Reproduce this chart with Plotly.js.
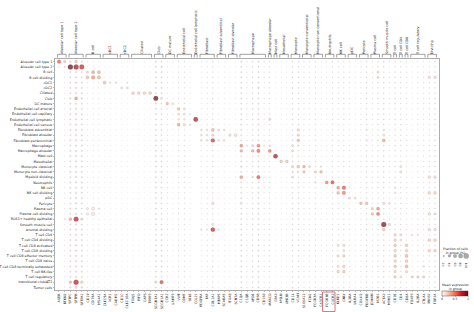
<!DOCTYPE html>
<html><head><meta charset="utf-8">
<script src="https://cdn.plot.ly/plotly-3.0.1.min.js"></script>
<style>html,body{margin:0;padding:0;background:#fff}#chart{width:474px;height:312px}</style>
</head><body><div id="chart"></div>
<script>
const cellTypes = ['Alveolar cell type 1','Alveolar cell type 2','B cell','B cell dividing','cDC1','cDC2','Ciliated','Club','DC mature','Endothelial cell arterial','Endothelial cell capillary','Endothelial cell lymphatic','Endothelial cell venous','Fibroblast adventitial','Fibroblast alveolar','Fibroblast peribronchial','Macrophage','Macrophage alveolar','Mast cell','Mesothelial','Monocyte classical','Monocyte non-classical','Myeloid dividing','Neutrophils','NK cell','NK cell dividing','pDC','Pericyte','Plasma cell','Plasma cell dividing','ROS1+ healthy epithelial','Smooth muscle cell','stromal dividing','T cell CD4','T cell CD4 dividing','T cell CD8 activated','T cell CD8 dividing','T cell CD8 effector memory','T cell CD8 naive','T cell CD8 terminally exhausted','T cell NK-like','T cell regulatory','transitional club/AT2','Tumor cells'];

const genes = ['AGER','RTKN2','SFTPC','SFTPB','SFTPA1','CD19','CD79A','MS4A1','CLEC9A','XCR1','CADM1','CD1C','CLEC10A','FOXJ1','PIFO','CAPS','TPPP3','SCGB3A1','SCGB1A1','CCR7','LAMP3','VWF','CDH5','SELE','CCL21','PDGFRA','FAP','COL1A1','MFAP5','SCARA5','ITGA8','SCN7A','C1QA','C1QB','APOE','CD68','CD163','MARCO','CPA3','MSLN','UPK3B','CD14','VCAN','S100A12','FCN1','FCGR3A','CX3CR1','FCGR3B','CXCR2','KLRD1','GNLY','IL3RA','LILRA4','COX4I2','PDGFRB','JCHAIN','MZB1','ACTA2','MYH11','CD3E','CD4','CD8A','FOXP3','IL2RA','CTLA4','MKI67','TOP2A'];

const groupNames = ['Alveolar cell type 1','Alveolar cell type 2','B cell','cDC1','cDC2','Ciliated','Club','DC mature','Endothelial cell','Endothelial cell lymphatic','Fibroblast','Fibroblast adventitial','Fibroblast alveolar','Macrophage','Macrophage alveolar','Mast cell','Mesothelial','Monocyte','Monocyte conventional','Monocyte non-conventional','Neutrophils','NK cell','pDC','Pericyte','Plasma cell','Smooth muscle cell','T cell','T cell CD4','T cell CD8','T cell regulatory','Dividing'];
const groupFirst = [0,2,5,8,11,13,17,19,21,24,25,28,30,32,37,38,39,41,43,45,47,49,51,53,55,57,59,60,61,62,65];
const groupLast  = [1,4,7,10,12,16,18,20,23,24,27,29,31,36,37,38,40,42,44,46,48,50,52,54,56,58,59,60,61,64,66];

// faint background fraction per gene (column)
const ambientFrac = [0,0.04,0.15,0.2,0.15,0.04,0.04,0.04,0.02,0.02,0.02,0.02,0.02,0.02,0.02,0.02,0.02,0.14,0.12,0.05,0.03,0.06,0.06,0.03,0,0.04,0.05,0.08,0.03,0.03,0.02,0.03,0.14,0.05,0.1,0.14,0.05,0.07,0.02,0.03,0.03,0.1,0.1,0.05,0.05,0.07,0.03,0.04,0.07,0.06,0.06,0.05,0.03,0.05,0.09,0.05,0.08,0.1,0.05,0.08,0.08,0.05,0.03,0.05,0.05,0.07,0.09];
const ambientExpr = 0.04;

// [row, gene column, fraction of cells, scaled mean expression]
const dots = [
[0,0,0.6,0.6],[0,1,0.35,0.25],[0,2,0.2,0.1],[0,3,0.4,0.25],[0,4,0.15,0.08],
[1,0,0.1,0.05],[1,1,0.15,0.1],[1,2,0.95,1.0],[1,3,0.95,0.88],[1,4,0.9,0.75],[1,17,0.15,0.1],[1,18,0.2,0.15],
[2,5,0.3,0.2],[2,6,0.5,0.35],[2,7,0.5,0.3],[2,56,0.3,0.15],
[3,5,0.5,0.25],[3,6,0.6,0.4],[3,7,0.55,0.3],[3,56,0.35,0.15],[3,65,0.4,0.15],[3,66,0.4,0.15],
[4,8,0.45,0.3],[4,9,0.2,0.1],[4,10,0.2,0.1],[4,12,0.15,0.05],
[5,11,0.3,0.12],[5,12,0.3,0.12],[5,35,0.2,0.15],[5,41,0.15,0.05],
[6,13,0.45,0.2],[6,14,0.45,0.2],[6,15,0.45,0.2],[6,16,0.45,0.2],
[7,2,0.2,0.1],[7,3,0.5,0.4],[7,4,0.2,0.1],[7,17,0.9,1.0],[7,18,0.3,0.15],
[8,19,0.4,0.3],[8,20,0.3,0.12],
[9,21,0.45,0.3],[9,22,0.3,0.15],
[10,21,0.3,0.12],[10,22,0.3,0.12],[10,23,0.15,0.05],
[11,21,0.25,0.1],[11,22,0.2,0.08],[11,24,0.85,0.85],[11,37,0.3,0.2],
[12,21,0.5,0.35],[12,22,0.35,0.15],[12,23,0.2,0.1],
[13,25,0.25,0.1],[13,26,0.25,0.1],[13,27,0.5,0.3],[13,28,0.3,0.12],[13,29,0.25,0.1],[13,42,0.35,0.2],[13,54,0.2,0.05],[13,57,0.25,0.1],
[14,25,0.25,0.1],[14,26,0.25,0.1],[14,27,0.35,0.2],[14,30,0.35,0.15],[14,31,0.45,0.15],[14,42,0.35,0.2],[14,57,0.3,0.12],
[15,25,0.25,0.1],[15,26,0.25,0.1],[15,27,0.7,0.7],[15,28,0.25,0.1],[15,29,0.25,0.1],[15,42,0.45,0.3],[15,54,0.2,0.05],[15,57,0.5,0.35],
[16,32,0.5,0.45],[16,33,0.15,0.05],[16,34,0.3,0.2],[16,35,0.55,0.5],[16,36,0.15,0.05],[16,37,0.25,0.12],[16,41,0.3,0.15],[16,42,0.2,0.08],
[17,32,0.45,0.35],[17,34,0.45,0.35],[17,35,0.6,0.55],[17,37,0.5,0.5],[17,41,0.3,0.15],
[18,38,0.8,0.85],
[19,39,0.45,0.25],[19,40,0.45,0.25],
[20,32,0.2,0.1],[20,41,0.35,0.2],[20,42,0.45,0.3],[20,43,0.45,0.35],[20,44,0.3,0.15],[20,46,0.2,0.1],[20,60,0.3,0.12],
[21,41,0.2,0.1],[21,42,0.25,0.1],[21,43,0.4,0.25],[21,45,0.35,0.2],[21,46,0.45,0.3],[21,60,0.35,0.12],
[22,32,0.5,0.4],[22,34,0.2,0.1],[22,35,0.6,0.6],[22,41,0.3,0.12],[22,65,0.4,0.15],[22,66,0.4,0.15],
[23,45,0.2,0.1],[23,47,0.5,0.5],[23,48,0.6,0.65],
[24,49,0.5,0.4],[24,50,0.65,0.6],[24,59,0.2,0.08],
[25,49,0.45,0.3],[25,50,0.6,0.5],[25,59,0.2,0.08],[25,65,0.45,0.2],[25,66,0.45,0.2],
[26,51,0.35,0.15],[26,52,0.3,0.1],
[27,27,0.4,0.15],[27,32,0.3,0.1],[27,53,0.45,0.3],[27,54,0.45,0.3],[27,57,0.4,0.15],[27,58,0.25,0.1],
[28,5,0.3,0.05],[28,6,0.5,0.1],[28,7,0.2,0.05],[28,55,0.35,0.25],[28,56,0.5,0.45],
[29,5,0.35,0.06],[29,6,0.55,0.1],[29,55,0.4,0.3],[29,56,0.55,0.55],[29,65,0.4,0.15],[29,66,0.35,0.15],
[30,1,0.15,0.05],[30,2,0.45,0.35],[30,3,0.9,0.78],[30,4,0.35,0.2],
[31,27,0.3,0.1],[31,57,0.95,0.95],[31,58,0.35,0.2],
[32,25,0.2,0.08],[32,26,0.15,0.05],[32,27,0.75,0.75],[32,28,0.2,0.05],[32,57,0.4,0.25],[32,65,0.4,0.15],[32,66,0.4,0.15],
[33,59,0.4,0.2],[33,60,0.35,0.15],[33,62,0.2,0.05],[33,63,0.2,0.05],
[34,59,0.4,0.2],[34,60,0.3,0.12],[34,65,0.45,0.2],[34,66,0.45,0.2],
[35,49,0.3,0.12],[35,50,0.35,0.15],[35,59,0.45,0.25],[35,61,0.45,0.25],
[36,50,0.3,0.12],[36,59,0.4,0.2],[36,61,0.4,0.2],[36,65,0.45,0.2],[36,66,0.45,0.2],
[37,49,0.35,0.15],[37,50,0.4,0.2],[37,59,0.45,0.25],[37,61,0.5,0.3],
[38,59,0.4,0.2],[38,61,0.4,0.25],
[39,49,0.3,0.12],[39,50,0.4,0.2],[39,59,0.45,0.25],[39,61,0.5,0.3],[39,64,0.25,0.1],
[40,49,0.4,0.2],[40,50,0.45,0.25],[40,59,0.35,0.2],[40,61,0.35,0.2],
[41,59,0.4,0.2],[41,60,0.3,0.12],[41,62,0.35,0.2],[41,63,0.35,0.2],[41,64,0.35,0.2],
[42,2,0.4,0.3],[42,3,0.95,0.8],[42,4,0.4,0.2],[42,17,0.35,0.2],[42,18,0.6,0.65],
[43,2,0.2,0.08],[43,3,0.3,0.15],[43,4,0.2,0.08]
];

const sizeLegendPct = [20,40,60,80,100];
const colorTicks = [0,0.5,1];

const MAXD = 5.2;
const diam = f => MAXD * Math.pow(f, 0.75);
const reds = [[0,'#fff5f0'],[0.125,'#fee0d2'],[0.25,'#fcbba1'],[0.375,'#fc9272'],[0.5,'#fb6a4a'],[0.625,'#ef3b2c'],[0.75,'#cb181d'],[0.875,'#a50f15'],[1,'#67000d']];

// assemble cell table
const F = cellTypes.map(() => ambientFrac.slice());
const E = cellTypes.map(() => genes.map(() => ambientExpr));
dots.forEach(d => { F[d[0]][d[1]] = d[2]; E[d[0]][d[1]] = d[3]; });
const xs=[], ys=[], ss=[], cs=[];
for (let r=0;r<cellTypes.length;r++) for (let c=0;c<genes.length;c++) {
  if (F[r][c] <= 0) continue;
  xs.push(genes[c]); ys.push(cellTypes[r]); ss.push(diam(F[r][c])); cs.push(E[r][c]);
}

const FS = 3.3;
const main = {
  type:'scatter', mode:'markers', x:xs, y:ys, xaxis:'x', yaxis:'y', hoverinfo:'skip',
  marker:{size:ss, sizemode:'diameter', color:cs, cmin:0, cmax:1, colorscale:reds,
    line:{width:0.25, color:'rgba(0,0,0,0.55)'}, showscale:true,
    colorbar:{orientation:'h', x:(455-55)/415, xanchor:'center', y:-0.004, yanchor:'top',
      len:26, lenmode:'pixels', thickness:5, thicknessmode:'pixels', outlinewidth:0.4, outlinecolor:'#333',
      tickvals:colorTicks, ticktext:colorTicks.map(String), tickfont:{size:3, color:'#222'},
      ticks:'outside', ticklen:1, tickwidth:0.3, xpad:0, ypad:0}}
};
const legendTrace = {
  type:'scatter', mode:'markers', x:sizeLegendPct.map(String), y:sizeLegendPct.map(()=>0),
  xaxis:'x2', yaxis:'y2', hoverinfo:'skip',
  marker:{size:sizeLegendPct.map(p=>diam(p/100)), color:'#888', line:{width:0.25,color:'rgba(0,0,0,0.6)'}}
};
const groupCenters = groupNames.map((g,i) => (groupFirst[i]+groupLast[i])/2);
// carrier trace so the top group axis is drawn
const groupAxisTrace = {type:'scatter', mode:'markers', x:[groupCenters[0]], y:[cellTypes[0]],
  xaxis:'x3', yaxis:'y', hoverinfo:'skip', marker:{opacity:0, size:1}};

const shapes = [], annotations = [];
const yBot = (290-57.5)/231, yTop = (290-54.3)/231;
groupNames.forEach((g,i) => {
  const a = groupFirst[i]-0.25, b = groupLast[i]+0.25;
  shapes.push({type:'path', xref:'x', yref:'paper',
    path:`M ${a},${yBot} L ${a},${yTop} L ${b},${yTop} L ${b},${yBot}`,
    line:{color:'#444', width:0.5}});
});
// highlight box around two gene labels
shapes.push({type:'rect', xref:'x', yref:'paper', x0:46.25, x1:48.45, y0:(290-292)/231, y1:(290-311.5)/231,
  line:{color:'#c8404a', width:0.7}, fillcolor:'rgba(0,0,0,0)'});
annotations.push({xref:'paper', yref:'paper', x:(455-55)/415, y:(290-245)/231, xanchor:'center', yanchor:'top',
  text:'Fraction of cells<br>in group (%)', showarrow:false, font:{size:3.2,color:'#222'}});
annotations.push({xref:'paper', yref:'paper', x:(455-55)/415, y:(290-281)/231, xanchor:'center', yanchor:'top',
  text:'Mean expression<br>in group', showarrow:false, font:{size:3.2,color:'#222'}});

const layout = {
  width:474, height:312, margin:{l:55, r:4, t:59, b:22},
  paper_bgcolor:'#fff', plot_bgcolor:'#fff', showlegend:false,
  font:{family:'DejaVu Sans', size:FS, color:'#222'},
  xaxis:{domain:[0,384/415], type:'category', categoryorder:'array', categoryarray:genes,
    tickmode:'array', tickvals:genes, ticktext:genes, range:[-0.7,66.7], tickangle:-90,
    tickfont:{size:FS, color:'#222'}, showgrid:false, zeroline:false, showline:true, mirror:true,
    linecolor:'#777', linewidth:0.6, ticks:'outside', ticklen:1.5, tickwidth:0.4, tickcolor:'#555', fixedrange:true},
  xaxis3:{overlaying:'x', side:'top', anchor:'y', type:'linear', range:[-0.7,66.7],
    tickmode:'array', tickvals:groupCenters, ticktext:groupNames, tickangle:-90,
    tickfont:{size:3.4, color:'#222'}, ticks:'', showgrid:false, zeroline:false, showline:false,
    ticklabelstandoff:4, fixedrange:true},
  yaxis:{type:'category', categoryorder:'array', categoryarray:cellTypes, tickmode:'array',
    tickvals:cellTypes, ticktext:cellTypes, range:[43.5,-0.5], tickfont:{size:FS, color:'#222'},
    showgrid:false, zeroline:false, showline:true, mirror:true, linecolor:'#777', linewidth:0.6,
    ticks:'outside', ticklen:1.5, tickwidth:0.4, tickcolor:'#555', fixedrange:true},
  xaxis2:{domain:[(441-55)/415,(469-55)/415], anchor:'y2', type:'category', range:[-0.5,4.5],
    showgrid:false, zeroline:false, showline:false, ticks:'', tickfont:{size:3,color:'#222'}, fixedrange:true},
  yaxis2:{domain:[0.13,0.165], anchor:'x2', range:[-1,1], visible:false, fixedrange:true},
  shapes:shapes, annotations:annotations
};
Plotly.newPlot('chart', [main, groupAxisTrace, legendTrace], layout, {displayModeBar:false, staticPlot:true});
</script></body></html>
